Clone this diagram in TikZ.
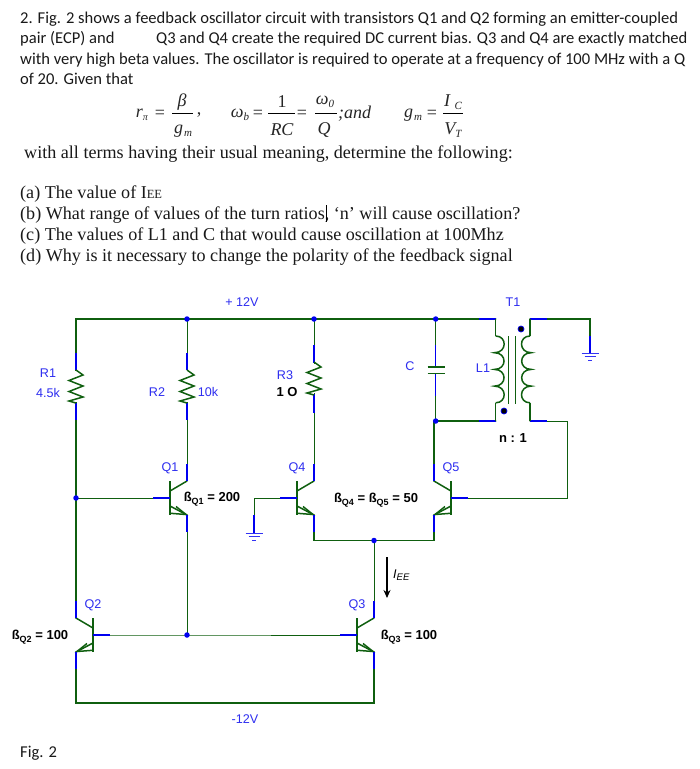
\documentclass[tikz,border=0pt]{standalone}
\usetikzlibrary{arrows.meta}
\usepackage{fontspec}
\setmainfont{Carlito}
\newfontfamily\tnrfont{Liberation Serif}
\newfontfamily\arifont{Liberation Sans}
\definecolor{wireg}{RGB}{15,95,15}
\definecolor{wireb}{RGB}{0,0,240}
\definecolor{labelb}{RGB}{45,45,240}
\tikzset{
  wire/.style={draw=wireg,line width=1.5pt,line cap=round,line join=miter},
  thinwire/.style={draw=wireg,line width=.95pt,line cap=round,line join=miter},
  wirethick/.style={draw=wireg,line width=1.5pt,line join=miter},
  bluewire/.style={draw=wireb,line width=1.4pt},
  junction/.style={circle,fill=wireb,inner sep=0pt,minimum size=5.5pt},
  pdot/.style={circle,fill=black,draw=wireb,line width=.7pt,inner sep=0pt,minimum size=6pt},
  gndline/.style={draw=wireb!80!white,line width=.9pt},
  para/.style={inner sep=0pt,anchor=base west,font=\fontsize{16.55}{18}\selectfont,text=black!90},
  serifline/.style={inner sep=0pt,anchor=base west,font=\tnrfont\fontsize{18.1}{20}\selectfont,text=black!90},
  formula/.style={inner sep=0pt,font=\tnrfont\itshape\fontsize{18}{20}\selectfont,text=black!85},
  formulaup/.style={inner sep=0pt,font=\tnrfont\fontsize{18}{20}\selectfont,text=black!85},
  lab/.style={inner sep=0pt,font=\arifont\fontsize{12.6}{14}\selectfont,text=labelb},
  boldlab/.style={inner sep=0pt,font=\arifont\bfseries\fontsize{13}{14}\selectfont,text=black},
}
\newcommand{\bjtsym}[4]{% name, bar x, mid y, direction
  \begin{scope}[shift={(#2,#3)},xscale=#4]
    \coordinate (#1b) at (0,0);
    \coordinate (#1c) at (17,-17);
    \coordinate (#1e) at (17,17);
    \draw[wirethick] (0,-17) -- (0,17);
    \draw[wirethick] (0,-7) -- (#1c);
    \draw[wirethick] (0,8) -- (#1e);
    \draw[wirethick] (6,8.5) -- (16,16.5) -- (0.5,15.3);
  \end{scope}}
\newcommand{\zigzag}[2]{% x, top y
  \begin{scope}[shift={(#1,#2)}]
    \draw[wirethick] (0,0) -- (7,5) -- (-7,10.5) -- (7,16) -- (-7,21.5) -- (7,27) -- (-7,31) -- (0,33);
  \end{scope}}
\newcommand{\coilsym}[2]{% x, sign
  \begin{scope}[shift={(#1,336)},xscale=#2]
    \draw[wirethick] (0,0)
      .. controls (11.5,0) and (11.5,16.7) .. (-1.2,16.7)
      .. controls (11.5,16.7) and (11.5,33.4) .. (-1.2,33.4)
      .. controls (11.5,33.4) and (11.5,50.1) .. (-1.2,50.1)
      .. controls (11.5,50.1) and (11.5,66.8) .. (0,66.8);
  \end{scope}}
\newcommand{\gndsym}[1]{%
  \draw[gndline] ([xshift=-8.5pt]#1) -- ([xshift=8.5pt]#1);
  \draw[gndline,line width=.6pt] ([xshift=-5.5pt,yshift=-3.5pt]#1) -- ([xshift=5.5pt,yshift=-3.5pt]#1);
  \draw[gndline] ([xshift=-2pt,yshift=-7pt]#1) -- ([xshift=2pt,yshift=-7pt]#1);}
\begin{document}
\begin{tikzpicture}[x=1pt,y=-1pt]
\useasboundingbox[fill=white] (0,0) rectangle (700,769);
% ---- text block
\node[para] (p1) at (20,23) {2. Fig. 2 shows a feedback oscillator circuit with transistors Q1 and Q2 forming an emitter-coupled};
\node[para] (p2a) at (20,43.5) {pair (ECP) and};
\node[para] (p2b) at (156,43.5) {Q3 and Q4 create the required DC current bias. Q3 and Q4 are exactly matched};
\node[para] (p3) at (20,64) {with very high beta values. The oscillator is required to operate at a frequency of 100 MHz with a Q};
\node[para] (p4) at (20,84) {of 20. Given that};
% ---- formula
\node[formula] (f1) at (142,115) {r\raisebox{-3pt}{\fontsize{10}{10}\selectfont π}};
\node[formulaup] (f2) at (160,114) {=};
\node[formula] (f3) at (182,102) {β};
\node[formula] (f4) at (183,131) {g\raisebox{-3pt}{\fontsize{11}{11}\selectfont\kern1pt m}};
\draw[line width=.6pt] (172,113.5) -- (193,113.5);
\node[formulaup] (f5) at (199,115) {,};
\node[formula] (f6) at (240,115) {ω\raisebox{-3pt}{\fontsize{11}{11}\selectfont b}};
\node[formulaup] (f7) at (258,114) {=};
\node[formulaup] (f8) at (282,102) {1};
\node[formula] (f9) at (282,130) {RC};
\draw[line width=.6pt] (268,113.5) -- (295,113.5);
\node[formulaup] (f10) at (302,114) {=};
\node[formula] (f11) at (325,102) {ω\raisebox{-3pt}{\fontsize{11}{11}\selectfont 0}};
\node[formula] (f12) at (324,130) {Q};
\draw[line width=.6pt] (315,113.5) -- (337,113.5);
\node[formula,anchor=base west] (f13) at (338,118) {;and};
\node[formula] (f14) at (413,115) {g\raisebox{-3pt}{\fontsize{11}{11}\selectfont\kern1pt m}};
\node[formulaup] (f15) at (432,114) {=};
\node[formula] (f16) at (453,102) {I\raisebox{-3pt}{\fontsize{11}{11}\selectfont\, C}};
\node[formula] (f17) at (453,130) {V\raisebox{-3pt}{\fontsize{11}{11}\selectfont T}};
\draw[line width=.6pt] (443,113.5) -- (463,113.5);
\node[serifline] (w) at (24,158.5) {with all terms having their usual meaning, determine the following:};
\node[serifline] (qa) at (20,198) {(a) The value of I{\fontsize{12.5}{14}\selectfont EE}};
\node[serifline] (qb) at (20,219) {(b) What range of values of the turn ratios, ‘n’ will cause oscillation?};
\node[serifline] (qc) at (20,240) {(c) The values of L1 and C that would cause oscillation at 100Mhz};
\node[serifline] (qd) at (20,261) {(d) Why is it necessary to change the polarity of the feedback signal};
\draw[line width=.7pt,black] (326.5,205) -- (326.5,222);
% ---- coordinates
\coordinate (tl) at (76,319);
\coordinate (j1) at (187,319);
\coordinate (j2) at (314,319);
\coordinate (j3) at (435.7,319);
\coordinate (pt) at (495.7,319);
\coordinate (pb) at (495.7,421);
\coordinate (st) at (530,319);
\coordinate (sb) at (530,421);
\coordinate (gr) at (590,319);
\coordinate (g1) at (590,353);
\coordinate (j4) at (435.7,421);
\coordinate (jb) at (76,498);
\coordinate (fb) at (567.7,421);
\coordinate (g2t) at (254,498);
\coordinate (g2) at (254,533);
\coordinate (j5) at (374,540.5);
\coordinate (j6) at (187,635);
\coordinate (bl) at (76,703);
\coordinate (br) at (374,703);
% ---- transistors
\bjtsym{qa}{170}{498}{1}
\bjtsym{qd}{297}{498}{1}
\bjtsym{qe}{451}{498}{-1}
\bjtsym{qb}{93}{635}{-1}
\bjtsym{qc}{357}{635}{1}
% ---- wiring
\draw[wire] (qbc) -- (tl) -- (j1) -- (j2) -- (j3) -- (pt);
\draw[wire] (st) -- (gr) -- (g1);
\draw[thinwire] (j1) -- (qac);
\draw[thinwire] (j2) -- (qdc);
\draw[thinwire] (j3) -- (j4);
\draw[wire] (j4) -- (pb);
\draw[thinwire] (jb) -- (qab);
\draw[thinwire] (qae) -- (j6);
\draw[thinwire] (g2) -- (g2t) -- (qdb);
\draw[wire] (qde) |- (j5) -| (qee);
\draw[thinwire] (j5) -- (qcc);
\draw[wire] (j4 -| qec) -- (qec);
\draw[thinwire] (qeb) -- (qeb -| fb) -- (fb) -- (sb);
\draw[thinwire] (qbb) -- (j6) -- (qcb);
\draw[wire] (qbe) -- (bl) -- (br) -- (qce);
% ---- blue lead stubs
\foreach \a/\b in {76/353,76/403,187/353,187/403}{\draw[bluewire] (\a,\b) -- ++(0,17);}
\draw[bluewire] (314,345) -- (314,363);
\draw[bluewire] (314,394) -- (314,413);
\draw[bluewire] (qac) -- ++(0,-17);
\draw[bluewire] (qdc) -- ++(0,-17);
\draw[bluewire] (qec) -- ++(0,-17);
\draw[bluewire] (qae) -- ++(0,17);
\draw[bluewire] (qde) -- ++(0,17);
\draw[bluewire] (qee) -- ++(0,17);
\draw[bluewire] (qbc) -- ++(0,-17);
\draw[bluewire] (qcc) -- ++(0,-17);
\draw[bluewire] (qbe) -- ++(0,17);
\draw[bluewire] (qce) -- ++(0,17);
\draw[bluewire] (qab) -- ++(-17,0);
\draw[bluewire] (qdb) -- ++(-17,0);
\draw[bluewire] (qeb) -- ++(17,0);
\draw[bluewire] (qbb) -- ++(17,0);
\draw[bluewire] (qcb) -- ++(-17,0);
\draw[bluewire] (pt) -- ++(-17,0);
\draw[bluewire] (pb) -- ++(-17,0);
\draw[bluewire] (st) -- ++(17,0);
\draw[bluewire] (sb) -- ++(17,0);
\draw[bluewire] (g1) -- ++(0,-17);
\draw[bluewire] (g2) -- ++(0,-18);
% ---- resistors
\draw[draw=white,line width=3pt] (76,371) -- (76,402);
\draw[draw=white,line width=3pt] (187,371) -- (187,402);
\draw[draw=white,line width=3pt] (314,364) -- (314,393);
\zigzag{76}{370}
\zigzag{187}{370}
\zigzag{314}{362}
% ---- capacitor
\draw[draw=white,line width=3pt] (435.7,367) -- (435.7,373);
\draw[bluewire] (435.7,345) -- (435.7,367);
\draw[bluewire] (435.7,373) -- (435.7,396);
\draw[wirethick,line width=1.8pt] (427.5,367) -- (444.5,367);
\draw[wirethick,line width=1.1pt] (427.5,373.5) -- (444.5,373.5);
% ---- transformer
\draw[wirethick] (pt) -- (495.7,336);
\draw[wirethick] (495.7,402.8) -- (pb);
\draw[wirethick] (st) -- (530,336);
\draw[wirethick] (530,402.8) -- (sb);
\coilsym{495.7}{1}
\coilsym{530}{-1}
\draw[wirethick] (508.5,336) -- (508.5,404);
\draw[wirethick] (515.5,336) -- (515.5,404);
\node[pdot] (d1) at (504,411) {};
\node[pdot] (d2) at (521,329) {};
% ---- grounds
\gndsym{g1}
\gndsym{g2}
% ---- junctions
\node[junction] (n1) at (j1) {};
\node[junction] (n2) at (j2) {};
\node[junction] (n3) at (j3) {};
\node[junction] (n4) at (j4) {};
\node[junction] (n5) at (jb) {};
\node[junction] (n6) at (j5) {};
\node[junction] (n7) at (j6) {};
% ---- IEE arrow
\coordinate (ia) at (387,557);
\coordinate (ib) at (387,598);
\draw[-{Stealth[length=8pt,width=7pt]},line width=1.2pt,black] (ia) -- (ib);
% ---- labels
\node[lab] (l1) at (242,302.5) {+ 12V};
\node[lab] (l2) at (513,302.5) {T1};
\node[lab] (l3) at (48,373) {R1};
\node[lab] (l4) at (48,393) {4.5k};
\node[lab] (l5) at (157,392) {R2};
\node[lab] (l6) at (208,392) {10k};
\node[lab] (l7) at (285,375) {R3};
\node[boldlab] (l8) at (287,392) {1 O};
\node[lab] (l9) at (410,366) {C};
\node[lab] (l10) at (483,368) {L1};
\node[boldlab] (l11) at (513,438) {n : 1};
\node[lab] (l12) at (170,468) {Q1};
\node[lab] (l13) at (297,468) {Q4};
\node[lab] (l14) at (451,468) {Q5};
\node[lab] (l15) at (93,605) {Q2};
\node[lab] (l16) at (357,605) {Q3};
\node[boldlab] (l17) at (212,499) {ß\raisebox{-2.5pt}{\fontsize{9}{9}\selectfont Q1} = 200};
\node[boldlab] (l18) at (376,500) {ß\raisebox{-2.5pt}{\fontsize{9}{9}\selectfont Q4} = ß\raisebox{-2.5pt}{\fontsize{9}{9}\selectfont Q5} = 50};
\node[boldlab] (l19) at (40,637) {ß\raisebox{-2.5pt}{\fontsize{9}{9}\selectfont Q2} = 100};
\node[boldlab] (l20) at (409,637) {ß\raisebox{-2.5pt}{\fontsize{9}{9}\selectfont Q3} = 100};
\node[lab,text=black,anchor=west] (l21) at (393,575) {\itshape I\raisebox{-2.5pt}{\fontsize{9.5}{9}\selectfont EE}};
\node[lab] (l22) at (245,719) {-12V};
\node[para] (l23) at (20,757) {Fig. 2};
\end{tikzpicture}
\end{document}
